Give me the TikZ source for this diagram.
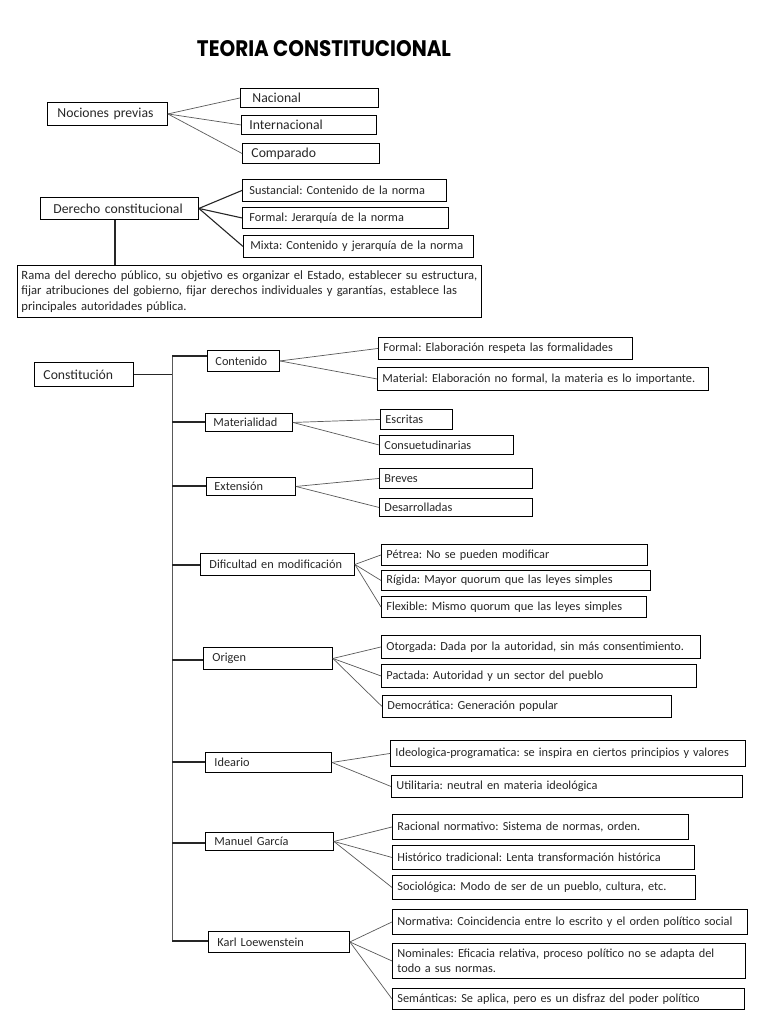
\documentclass[tikz,border=0pt]{standalone}
\usepackage{fontspec}
\setmainfont{Carlito}
\newfontfamily\titlefont{Poppins}
\frenchspacing
\begin{document}
\begin{tikzpicture}[x=1pt, y=-1pt,
  bx/.style={draw, line width=0.9pt, anchor=north west, inner xsep=5pt, inner ysep=0pt, align=left, font=\fontsize{12.3}{15.5}\selectfont, text=black!85},
  bxl/.style={bx, font=\fontsize{13.7}{16}\selectfont},
  ln/.style={draw=black!65, line width=0.7pt},
  dk/.style={draw=black!85, line width=1.1pt}]
\useasboundingbox (0,0) rectangle (768,1024);
\node[font=\titlefont\bfseries] (titulo) at (324,49){\resizebox{254pt}{16pt}{TEORIA CONSTITUCIONAL}};

% nociones previas
\node[bxl, text width=110pt, minimum height=23pt] (np0) at (47,102){\hspace{5pt}Nociones previas};
\node[bxl, text width=128pt, minimum height=19pt] (np1) at (240,88){\hspace{7pt}Nacional};
\node[bxl, text width=125pt, minimum height=19pt] (np2) at (241,115){\hspace{3pt}Internacional};
\node[bxl, text width=127pt, minimum height=20pt] (np3) at (242,143){\hspace{4pt}Comparado};
\draw[ln](np0.east) -- (np1.west);
\draw[ln](np0.east) -- (np2.west);
\draw[ln](np0.east) -- (np3.west);

% derecho constitucional
\node[bxl, text width=148pt, minimum height=22pt] (dc0) at (40,197){\hspace{8pt}Derecho constitucional};
\node[bx, text width=194pt, minimum height=22pt] (dc1) at (242,179){\hspace{2pt}Sustancial: Contenido de la norma};
\node[bx, text width=196pt, minimum height=21pt] (dc2) at (242,207){\hspace{2pt}Formal: Jerarquía de la norma};
\node[bx, text width=220pt, minimum height=22pt] (dc3) at (243,235){\hspace{2pt}Mixta: Contenido y jerarquía de la norma};
\node[bx, inner xsep=4pt, text width=456pt, minimum height=52pt, font=\fontsize{12.6}{15.5}\selectfont] (rama) at (17,265){Rama del derecho público, su objetivo es organizar el Estado, establecer su estructura,\\
fijar atribuciones del gobierno, fijar derechos individuales y garantías, establece las\\
principales autoridades pública.};
\draw[dk](dc0.east) -- (dc1.west);
\draw[dk](dc0.east) -- (dc2.west);
\draw[dk](dc0.east) -- (dc3.west);
\coordinate (rama0) at (115,265);
\draw[dk](rama0 |- dc0.south) -- (rama0);

% constitucion
\node[bxl, text width=89pt, minimum height=24pt] (ct0) at (34,362){\hspace{4pt}Constitución};
\coordinate (tr0) at (172,355);
\coordinate (tr1) at (172,941);
\draw[ln](tr0) -- (tr1);
\draw[dk](ct0.east) -- (ct0.east -| tr0);

\node[bx, text width=62pt, minimum height=21pt] (ct1) at (207,350){\hspace{3pt}Contenido};
\node[bx, text width=77pt, minimum height=18pt] (ct2) at (205,413){\hspace{3pt}Materialidad};
\node[bx, text width=79pt, minimum height=18pt] (ct3) at (206,477){\hspace{3pt}Extensión};
\node[bx, text width=144pt, minimum height=22pt] (ct4) at (200,553){\hspace{4pt}Dificultad en modificación};
\node[bx, text width=119pt, minimum height=22pt] (ct5) at (203,647){\hspace{4pt}Origen};
\node[bx, text width=116pt, minimum height=20pt] (ct6) at (205,752){\hspace{4pt}Ideario};
\node[bx, text width=118pt, minimum height=18pt] (ct7) at (205,832){\hspace{4pt}Manuel García};
\node[bx, text width=131pt, minimum height=21pt] (ct8) at (208,931){\hspace{4pt}Karl Loewenstein};
\foreach \i/\y in {1/356,2/422,3/486,4/565,5/660,6/762,7/843,8/941}{
  \coordinate (br\i) at (172,\y);
  \draw[dk](br\i) -- (br\i -| ct\i.west);
}

\node[bx, text width=244pt, minimum height=22pt] (ct11) at (378,337){Formal: Elaboración respeta las formalidades};
\node[bx, text width=321pt, minimum height=23pt] (ct12) at (377,367){Material: Elaboración no formal, la materia es lo importante.};
\node[bx, text width=62pt, minimum height=20pt] (ct21) at (380,409){Escritas};
\node[bx, text width=124pt, minimum height=19pt] (ct22) at (379,435){Consuetudinarias};
\node[bx, text width=143pt, minimum height=20pt] (ct31) at (379,468){Breves};
\node[bx, text width=143pt, minimum height=18pt] (ct32) at (379,498){Desarrolladas};
\node[bx, text width=256pt, minimum height=21pt] (ct41) at (381,544){Pétrea: No se pueden modificar};
\node[bx, text width=259pt, minimum height=20pt] (ct42) at (381,570){Rígida: Mayor quorum que las leyes simples};
\node[bx, text width=255pt, minimum height=21pt] (ct43) at (381,596){Flexible: Mismo quorum que las leyes simples};
\node[bx, text width=309pt, minimum height=23pt] (ct51) at (381,635){Otorgada: Dada por la autoridad, sin más consentimiento.};
\node[bx, text width=305pt, minimum height=23pt] (ct52) at (381,664){Pactada: Autoridad y un sector del pueblo};
\node[bx, text width=279pt, minimum height=22pt] (ct53) at (382,695){Democrática: Generación popular};
\node[bx, text width=345pt, minimum height=26pt] (ct61) at (390,740){Ideologica-programatica: se inspira en ciertos principios y valores};
\node[bx, text width=341pt, minimum height=22pt] (ct62) at (391,775){Utilitaria: neutral en materia ideológica};
\node[bx, text width=286pt, minimum height=25pt] (ct71) at (392,814){Racional normativo: Sistema de normas, orden.};
\node[bx, text width=292pt, minimum height=24pt] (ct72) at (392,845){Histórico tradicional: Lenta transformación histórica};
\node[bx, text width=293pt, minimum height=24pt] (ct73) at (392,875){Sociológica: Modo de ser de un pueblo, cultura, etc.};
\node[bx, text width=345pt, minimum height=25pt] (ct81) at (392,909){Normativa: Coincidencia entre lo escrito y el orden político social};
\node[bx, text width=343pt, minimum height=35pt] (ct82) at (392,943){Nominales: Eficacia relativa, proceso político no se adapta del\\ todo a sus normas.};
\node[bx, text width=342pt, minimum height=21pt] (ct83) at (392,988){Semánticas: Se aplica, pero es un disfraz del poder político};

\draw[ln](ct1.east) -- (ct11.west);
\draw[ln](ct1.east) -- (ct12.west);
\draw[ln](ct2.east) -- (ct21.west);
\draw[ln](ct2.east) -- (ct22.west);
\draw[ln](ct3.east) -- (ct31.west);
\draw[ln](ct3.east) -- (ct32.west);
\draw[ln](ct4.east) -- (ct41.west);
\draw[ln](ct4.east) -- (ct42.west);
\draw[ln](ct4.east) -- (ct43.west);
\draw[ln](ct5.east) -- (ct51.west);
\draw[ln](ct5.east) -- (ct52.west);
\draw[ln](ct5.east) -- (ct53.west);
\draw[ln](ct6.east) -- (ct61.west);
\draw[ln](ct6.east) -- (ct62.west);
\draw[ln](ct7.east) -- (ct71.west);
\draw[ln](ct7.east) -- (ct72.west);
\draw[ln](ct7.east) -- (ct73.west);
\draw[ln](ct8.east) -- (ct81.west);
\draw[ln](ct8.east) -- (ct82.west);
\draw[ln](ct8.east) -- (ct83.west);
\end{tikzpicture}
\end{document}
